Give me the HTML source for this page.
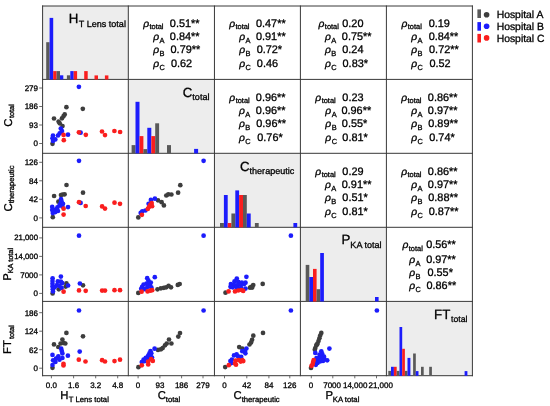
<!DOCTYPE html>
<html><head><meta charset="utf-8"><title>Correlation matrix</title>
<style>
html,body{margin:0;padding:0;background:#fff;width:550px;height:406px;overflow:hidden}
svg{display:block}
text{font-family:"Liberation Sans", "DejaVu Sans", sans-serif;fill:#000;text-rendering:geometricPrecision;stroke:#000;stroke-width:0.3px}
</style></head><body>
<svg width="550" height="406" viewBox="0 0 550 406">
<rect width="550" height="406" fill="#fff"/>
<rect x="42.6" y="6.0" width="85.70" height="73.40" fill="#ededed"/>
<rect x="128.3" y="79.4" width="86.15" height="73.90" fill="#ededed"/>
<rect x="214.45" y="153.3" width="85.95" height="74.00" fill="#ededed"/>
<rect x="300.4" y="227.3" width="86.00" height="74.10" fill="#ededed"/>
<rect x="386.4" y="301.4" width="86.00" height="74.30" fill="#ededed"/>
<circle cx="66.4" cy="107.2" r="2.35" fill="#3d3d3d"/>
<circle cx="82.8" cy="108.8" r="2.35" fill="#3d3d3d"/>
<circle cx="64.7" cy="114.4" r="2.35" fill="#3d3d3d"/>
<circle cx="63.6" cy="116.1" r="2.35" fill="#3d3d3d"/>
<circle cx="62" cy="118.3" r="2.35" fill="#3d3d3d"/>
<circle cx="54" cy="118.5" r="2.35" fill="#3d3d3d"/>
<circle cx="58.6" cy="121.6" r="2.35" fill="#3d3d3d"/>
<circle cx="59.7" cy="123.3" r="2.35" fill="#3d3d3d"/>
<circle cx="62.5" cy="126.1" r="2.35" fill="#3d3d3d"/>
<circle cx="52.5" cy="143.8" r="2.35" fill="#3d3d3d"/>
<circle cx="78.9" cy="86.8" r="2.35" fill="#1c1cfc"/>
<circle cx="60.8" cy="128.6" r="2.35" fill="#1c1cfc"/>
<circle cx="62" cy="131" r="2.35" fill="#1c1cfc"/>
<circle cx="59.7" cy="133.3" r="2.35" fill="#1c1cfc"/>
<circle cx="58" cy="135.5" r="2.35" fill="#1c1cfc"/>
<circle cx="53" cy="135.5" r="2.35" fill="#1c1cfc"/>
<circle cx="52.5" cy="138.2" r="2.35" fill="#1c1cfc"/>
<circle cx="55.3" cy="139.4" r="2.35" fill="#1c1cfc"/>
<circle cx="53" cy="141" r="2.35" fill="#1c1cfc"/>
<circle cx="68" cy="134.7" r="2.35" fill="#1c1cfc"/>
<circle cx="80.6" cy="132.7" r="2.35" fill="#1c1cfc"/>
<circle cx="63.6" cy="134.9" r="2.35" fill="#fa1e1e"/>
<circle cx="63.8" cy="140.2" r="2.35" fill="#fa1e1e"/>
<circle cx="78.9" cy="132.3" r="2.35" fill="#fa1e1e"/>
<circle cx="85.8" cy="134.8" r="2.35" fill="#fa1e1e"/>
<circle cx="102" cy="131.5" r="2.35" fill="#fa1e1e"/>
<circle cx="105" cy="135.1" r="2.35" fill="#fa1e1e"/>
<circle cx="114.4" cy="131" r="2.35" fill="#fa1e1e"/>
<circle cx="120.1" cy="132" r="2.35" fill="#fa1e1e"/>
<circle cx="66.5" cy="185" r="2.35" fill="#3d3d3d"/>
<circle cx="83" cy="192.7" r="2.35" fill="#3d3d3d"/>
<circle cx="54.1" cy="196" r="2.35" fill="#3d3d3d"/>
<circle cx="61" cy="195" r="2.35" fill="#3d3d3d"/>
<circle cx="62.6" cy="194.5" r="2.35" fill="#3d3d3d"/>
<circle cx="64.6" cy="194.3" r="2.35" fill="#3d3d3d"/>
<circle cx="58.4" cy="201.7" r="2.35" fill="#3d3d3d"/>
<circle cx="52.8" cy="217.2" r="2.35" fill="#3d3d3d"/>
<circle cx="79" cy="160.8" r="2.35" fill="#1c1cfc"/>
<circle cx="61" cy="199.1" r="2.35" fill="#1c1cfc"/>
<circle cx="61.5" cy="201.2" r="2.35" fill="#1c1cfc"/>
<circle cx="60.5" cy="203.3" r="2.35" fill="#1c1cfc"/>
<circle cx="59.5" cy="205.3" r="2.35" fill="#1c1cfc"/>
<circle cx="57.4" cy="207.4" r="2.35" fill="#1c1cfc"/>
<circle cx="55.3" cy="209.5" r="2.35" fill="#1c1cfc"/>
<circle cx="52.2" cy="206.9" r="2.35" fill="#1c1cfc"/>
<circle cx="52.2" cy="210" r="2.35" fill="#1c1cfc"/>
<circle cx="52.8" cy="213.1" r="2.35" fill="#1c1cfc"/>
<circle cx="55.3" cy="212.1" r="2.35" fill="#1c1cfc"/>
<circle cx="63" cy="203.8" r="2.35" fill="#1c1cfc"/>
<circle cx="62.3" cy="206.5" r="2.35" fill="#1c1cfc"/>
<circle cx="58" cy="211" r="2.35" fill="#1c1cfc"/>
<circle cx="68" cy="207.1" r="2.35" fill="#1c1cfc"/>
<circle cx="80.6" cy="202.9" r="2.35" fill="#1c1cfc"/>
<circle cx="63.6" cy="208.7" r="2.35" fill="#fa1e1e"/>
<circle cx="63.6" cy="214.6" r="2.35" fill="#fa1e1e"/>
<circle cx="79" cy="202.2" r="2.35" fill="#fa1e1e"/>
<circle cx="85.7" cy="206" r="2.35" fill="#fa1e1e"/>
<circle cx="102.1" cy="206.4" r="2.35" fill="#fa1e1e"/>
<circle cx="105" cy="208.6" r="2.35" fill="#fa1e1e"/>
<circle cx="114.5" cy="202.7" r="2.35" fill="#fa1e1e"/>
<circle cx="120" cy="203.8" r="2.35" fill="#fa1e1e"/>
<circle cx="66.4" cy="283.4" r="2.35" fill="#3d3d3d"/>
<circle cx="65.7" cy="286.6" r="2.35" fill="#3d3d3d"/>
<circle cx="83" cy="285.3" r="2.35" fill="#3d3d3d"/>
<circle cx="52.6" cy="293.4" r="2.35" fill="#3d3d3d"/>
<circle cx="58.8" cy="289.3" r="2.35" fill="#3d3d3d"/>
<circle cx="79" cy="235.7" r="2.35" fill="#1c1cfc"/>
<circle cx="60.9" cy="276.6" r="2.35" fill="#1c1cfc"/>
<circle cx="52.6" cy="278.3" r="2.35" fill="#1c1cfc"/>
<circle cx="52.5" cy="281" r="2.35" fill="#1c1cfc"/>
<circle cx="52.5" cy="283.8" r="2.35" fill="#1c1cfc"/>
<circle cx="52.5" cy="286.6" r="2.35" fill="#1c1cfc"/>
<circle cx="52.8" cy="289.3" r="2.35" fill="#1c1cfc"/>
<circle cx="53" cy="291.4" r="2.35" fill="#1c1cfc"/>
<circle cx="57.8" cy="281.4" r="2.35" fill="#1c1cfc"/>
<circle cx="60.9" cy="281.7" r="2.35" fill="#1c1cfc"/>
<circle cx="62.2" cy="283.1" r="2.35" fill="#1c1cfc"/>
<circle cx="57" cy="285.2" r="2.35" fill="#1c1cfc"/>
<circle cx="59.5" cy="285.9" r="2.35" fill="#1c1cfc"/>
<circle cx="61.6" cy="287.9" r="2.35" fill="#1c1cfc"/>
<circle cx="54.7" cy="287.2" r="2.35" fill="#1c1cfc"/>
<circle cx="68.1" cy="285.5" r="2.35" fill="#1c1cfc"/>
<circle cx="79.9" cy="283.5" r="2.35" fill="#1c1cfc"/>
<circle cx="63.6" cy="291.7" r="2.35" fill="#fa1e1e"/>
<circle cx="79" cy="290.4" r="2.35" fill="#fa1e1e"/>
<circle cx="85.7" cy="290.8" r="2.35" fill="#fa1e1e"/>
<circle cx="102.1" cy="290.6" r="2.35" fill="#fa1e1e"/>
<circle cx="105" cy="290.6" r="2.35" fill="#fa1e1e"/>
<circle cx="114.5" cy="290.2" r="2.35" fill="#fa1e1e"/>
<circle cx="120" cy="290.2" r="2.35" fill="#fa1e1e"/>
<circle cx="66.4" cy="332.9" r="2.35" fill="#3d3d3d"/>
<circle cx="83" cy="336.3" r="2.35" fill="#3d3d3d"/>
<circle cx="62.4" cy="339.5" r="2.35" fill="#3d3d3d"/>
<circle cx="54" cy="344.4" r="2.35" fill="#3d3d3d"/>
<circle cx="60.6" cy="343.5" r="2.35" fill="#3d3d3d"/>
<circle cx="63.5" cy="342.9" r="2.35" fill="#3d3d3d"/>
<circle cx="65.3" cy="343.5" r="2.35" fill="#3d3d3d"/>
<circle cx="58.3" cy="347" r="2.35" fill="#3d3d3d"/>
<circle cx="52.5" cy="367.8" r="2.35" fill="#3d3d3d"/>
<circle cx="79" cy="310.5" r="2.35" fill="#1c1cfc"/>
<circle cx="61.2" cy="348.7" r="2.35" fill="#1c1cfc"/>
<circle cx="61.8" cy="351" r="2.35" fill="#1c1cfc"/>
<circle cx="62.4" cy="353.4" r="2.35" fill="#1c1cfc"/>
<circle cx="79.7" cy="351.6" r="2.35" fill="#1c1cfc"/>
<circle cx="67.9" cy="355.7" r="2.35" fill="#1c1cfc"/>
<circle cx="52.5" cy="354.9" r="2.35" fill="#1c1cfc"/>
<circle cx="58.3" cy="356.3" r="2.35" fill="#1c1cfc"/>
<circle cx="62.4" cy="358" r="2.35" fill="#1c1cfc"/>
<circle cx="56" cy="358.6" r="2.35" fill="#1c1cfc"/>
<circle cx="59.5" cy="359.7" r="2.35" fill="#1c1cfc"/>
<circle cx="53.1" cy="360.3" r="2.35" fill="#1c1cfc"/>
<circle cx="55.4" cy="362" r="2.35" fill="#1c1cfc"/>
<circle cx="52.5" cy="365" r="2.35" fill="#1c1cfc"/>
<circle cx="63.5" cy="363.8" r="2.35" fill="#fa1e1e"/>
<circle cx="63.5" cy="365.5" r="2.35" fill="#fa1e1e"/>
<circle cx="78.8" cy="359.7" r="2.35" fill="#fa1e1e"/>
<circle cx="85.5" cy="361.5" r="2.35" fill="#fa1e1e"/>
<circle cx="102.1" cy="360.2" r="2.35" fill="#fa1e1e"/>
<circle cx="105" cy="361.5" r="2.35" fill="#fa1e1e"/>
<circle cx="114.5" cy="361.1" r="2.35" fill="#fa1e1e"/>
<circle cx="120" cy="359.7" r="2.35" fill="#fa1e1e"/>
<circle cx="166.3" cy="195.5" r="2.35" fill="#3d3d3d"/>
<circle cx="168.3" cy="194.3" r="2.35" fill="#3d3d3d"/>
<circle cx="171.4" cy="194.5" r="2.35" fill="#3d3d3d"/>
<circle cx="180.3" cy="185.2" r="2.35" fill="#3d3d3d"/>
<circle cx="178.1" cy="192.7" r="2.35" fill="#3d3d3d"/>
<circle cx="158" cy="200.3" r="2.35" fill="#3d3d3d"/>
<circle cx="161.6" cy="202.2" r="2.35" fill="#3d3d3d"/>
<circle cx="163.9" cy="205.4" r="2.35" fill="#3d3d3d"/>
<circle cx="138.3" cy="217.4" r="2.35" fill="#3d3d3d"/>
<circle cx="203.6" cy="160.8" r="2.35" fill="#1c1cfc"/>
<circle cx="150.9" cy="199.9" r="2.35" fill="#1c1cfc"/>
<circle cx="154.9" cy="198.7" r="2.35" fill="#1c1cfc"/>
<circle cx="148.6" cy="203.8" r="2.35" fill="#1c1cfc"/>
<circle cx="145.4" cy="210.5" r="2.35" fill="#1c1cfc"/>
<circle cx="142.3" cy="211.3" r="2.35" fill="#1c1cfc"/>
<circle cx="140.7" cy="212.9" r="2.35" fill="#1c1cfc"/>
<circle cx="151.7" cy="203" r="2.35" fill="#fa1e1e"/>
<circle cx="150.1" cy="205" r="2.35" fill="#fa1e1e"/>
<circle cx="149" cy="207" r="2.35" fill="#fa1e1e"/>
<circle cx="147.8" cy="208.9" r="2.35" fill="#fa1e1e"/>
<circle cx="152.1" cy="206.2" r="2.35" fill="#fa1e1e"/>
<circle cx="141.9" cy="214.8" r="2.35" fill="#fa1e1e"/>
<circle cx="138.3" cy="292.9" r="2.35" fill="#3d3d3d"/>
<circle cx="157.5" cy="289.3" r="2.35" fill="#3d3d3d"/>
<circle cx="160.9" cy="288.3" r="2.35" fill="#3d3d3d"/>
<circle cx="163.8" cy="287.8" r="2.35" fill="#3d3d3d"/>
<circle cx="166.2" cy="287.3" r="2.35" fill="#3d3d3d"/>
<circle cx="168.6" cy="285.9" r="2.35" fill="#3d3d3d"/>
<circle cx="171" cy="287.3" r="2.35" fill="#3d3d3d"/>
<circle cx="177.8" cy="284.9" r="2.35" fill="#3d3d3d"/>
<circle cx="179.7" cy="284" r="2.35" fill="#3d3d3d"/>
<circle cx="203.6" cy="235.7" r="2.35" fill="#1c1cfc"/>
<circle cx="154.8" cy="277.2" r="2.35" fill="#1c1cfc"/>
<circle cx="147.2" cy="278.2" r="2.35" fill="#1c1cfc"/>
<circle cx="148.4" cy="280.6" r="2.35" fill="#1c1cfc"/>
<circle cx="150.8" cy="282.5" r="2.35" fill="#1c1cfc"/>
<circle cx="149.8" cy="284.5" r="2.35" fill="#1c1cfc"/>
<circle cx="146.5" cy="283.5" r="2.35" fill="#1c1cfc"/>
<circle cx="143.6" cy="284.5" r="2.35" fill="#1c1cfc"/>
<circle cx="142.1" cy="286.9" r="2.35" fill="#1c1cfc"/>
<circle cx="141.2" cy="288.8" r="2.35" fill="#1c1cfc"/>
<circle cx="147.4" cy="286.9" r="2.35" fill="#1c1cfc"/>
<circle cx="151.3" cy="287.3" r="2.35" fill="#1c1cfc"/>
<circle cx="144.6" cy="289.2" r="2.35" fill="#1c1cfc"/>
<circle cx="141.6" cy="291.7" r="2.35" fill="#fa1e1e"/>
<circle cx="147.6" cy="291.4" r="2.35" fill="#fa1e1e"/>
<circle cx="150.3" cy="290.7" r="2.35" fill="#fa1e1e"/>
<circle cx="152.2" cy="290.2" r="2.35" fill="#fa1e1e"/>
<circle cx="180" cy="333.1" r="2.35" fill="#3d3d3d"/>
<circle cx="178.3" cy="336.6" r="2.35" fill="#3d3d3d"/>
<circle cx="169" cy="339.5" r="2.35" fill="#3d3d3d"/>
<circle cx="171.4" cy="343.5" r="2.35" fill="#3d3d3d"/>
<circle cx="166.7" cy="343.5" r="2.35" fill="#3d3d3d"/>
<circle cx="165" cy="345.3" r="2.35" fill="#3d3d3d"/>
<circle cx="162.7" cy="348.1" r="2.35" fill="#3d3d3d"/>
<circle cx="160.9" cy="349.3" r="2.35" fill="#3d3d3d"/>
<circle cx="158" cy="349.9" r="2.35" fill="#3d3d3d"/>
<circle cx="138.4" cy="367.2" r="2.35" fill="#3d3d3d"/>
<circle cx="203.6" cy="310.5" r="2.35" fill="#1c1cfc"/>
<circle cx="154.6" cy="348.7" r="2.35" fill="#1c1cfc"/>
<circle cx="150.5" cy="351" r="2.35" fill="#1c1cfc"/>
<circle cx="149.4" cy="353.4" r="2.35" fill="#1c1cfc"/>
<circle cx="148.2" cy="355.7" r="2.35" fill="#1c1cfc"/>
<circle cx="147.6" cy="358" r="2.35" fill="#1c1cfc"/>
<circle cx="143.6" cy="359.7" r="2.35" fill="#1c1cfc"/>
<circle cx="141.8" cy="362" r="2.35" fill="#1c1cfc"/>
<circle cx="151.3" cy="353.2" r="2.35" fill="#1c1cfc"/>
<circle cx="150.6" cy="356" r="2.35" fill="#1c1cfc"/>
<circle cx="152" cy="357.6" r="2.35" fill="#1c1cfc"/>
<circle cx="145.8" cy="357.8" r="2.35" fill="#1c1cfc"/>
<circle cx="144.6" cy="361.2" r="2.35" fill="#1c1cfc"/>
<circle cx="151.1" cy="359.1" r="2.35" fill="#fa1e1e"/>
<circle cx="152.8" cy="360.9" r="2.35" fill="#fa1e1e"/>
<circle cx="148.2" cy="361.5" r="2.35" fill="#fa1e1e"/>
<circle cx="148.2" cy="364.4" r="2.35" fill="#fa1e1e"/>
<circle cx="141.8" cy="365.3" r="2.35" fill="#fa1e1e"/>
<circle cx="251.4" cy="286.8" r="2.35" fill="#3d3d3d"/>
<circle cx="253.2" cy="285" r="2.35" fill="#3d3d3d"/>
<circle cx="250" cy="287.7" r="2.35" fill="#3d3d3d"/>
<circle cx="252.2" cy="287.6" r="2.35" fill="#3d3d3d"/>
<circle cx="262.7" cy="283.9" r="2.35" fill="#3d3d3d"/>
<circle cx="225.5" cy="292.7" r="2.35" fill="#3d3d3d"/>
<circle cx="290.9" cy="235.7" r="2.35" fill="#1c1cfc"/>
<circle cx="246.4" cy="276.8" r="2.35" fill="#1c1cfc"/>
<circle cx="236.8" cy="278.6" r="2.35" fill="#1c1cfc"/>
<circle cx="234.5" cy="281.4" r="2.35" fill="#1c1cfc"/>
<circle cx="238.2" cy="281.8" r="2.35" fill="#1c1cfc"/>
<circle cx="241.8" cy="282.7" r="2.35" fill="#1c1cfc"/>
<circle cx="245.5" cy="282.7" r="2.35" fill="#1c1cfc"/>
<circle cx="230.9" cy="284.1" r="2.35" fill="#1c1cfc"/>
<circle cx="234.1" cy="285" r="2.35" fill="#1c1cfc"/>
<circle cx="237.7" cy="285" r="2.35" fill="#1c1cfc"/>
<circle cx="240.9" cy="284.5" r="2.35" fill="#1c1cfc"/>
<circle cx="244.1" cy="284.1" r="2.35" fill="#1c1cfc"/>
<circle cx="230.5" cy="286.8" r="2.35" fill="#1c1cfc"/>
<circle cx="232.7" cy="287.3" r="2.35" fill="#1c1cfc"/>
<circle cx="245.5" cy="288.6" r="2.35" fill="#1c1cfc"/>
<circle cx="237" cy="287.8" r="2.35" fill="#1c1cfc"/>
<circle cx="241" cy="287.8" r="2.35" fill="#1c1cfc"/>
<circle cx="228.6" cy="291.4" r="2.35" fill="#fa1e1e"/>
<circle cx="235" cy="291.4" r="2.35" fill="#fa1e1e"/>
<circle cx="238.2" cy="290.5" r="2.35" fill="#fa1e1e"/>
<circle cx="241.4" cy="290" r="2.35" fill="#fa1e1e"/>
<circle cx="243.2" cy="290.9" r="2.35" fill="#fa1e1e"/>
<circle cx="263" cy="332.9" r="2.35" fill="#3d3d3d"/>
<circle cx="253.3" cy="335.7" r="2.35" fill="#3d3d3d"/>
<circle cx="252.1" cy="339.8" r="2.35" fill="#3d3d3d"/>
<circle cx="251.1" cy="342.4" r="2.35" fill="#3d3d3d"/>
<circle cx="249.5" cy="344.5" r="2.35" fill="#3d3d3d"/>
<circle cx="239.2" cy="347.1" r="2.35" fill="#3d3d3d"/>
<circle cx="242.3" cy="348.6" r="2.35" fill="#3d3d3d"/>
<circle cx="225.2" cy="367.1" r="2.35" fill="#3d3d3d"/>
<circle cx="290.9" cy="310.5" r="2.35" fill="#1c1cfc"/>
<circle cx="246.4" cy="348.6" r="2.35" fill="#1c1cfc"/>
<circle cx="244.8" cy="351.2" r="2.35" fill="#1c1cfc"/>
<circle cx="242.3" cy="351.2" r="2.35" fill="#1c1cfc"/>
<circle cx="245.4" cy="353.3" r="2.35" fill="#1c1cfc"/>
<circle cx="236.6" cy="354.3" r="2.35" fill="#1c1cfc"/>
<circle cx="234" cy="355.4" r="2.35" fill="#1c1cfc"/>
<circle cx="238.1" cy="356.4" r="2.35" fill="#1c1cfc"/>
<circle cx="241.2" cy="356.9" r="2.35" fill="#1c1cfc"/>
<circle cx="231.9" cy="359.5" r="2.35" fill="#1c1cfc"/>
<circle cx="230.4" cy="361.1" r="2.35" fill="#1c1cfc"/>
<circle cx="231.4" cy="363.1" r="2.35" fill="#1c1cfc"/>
<circle cx="235.5" cy="360.5" r="2.35" fill="#fa1e1e"/>
<circle cx="238.6" cy="360" r="2.35" fill="#fa1e1e"/>
<circle cx="242.3" cy="360" r="2.35" fill="#fa1e1e"/>
<circle cx="243.3" cy="361.1" r="2.35" fill="#fa1e1e"/>
<circle cx="240.7" cy="361.6" r="2.35" fill="#fa1e1e"/>
<circle cx="235" cy="363.6" r="2.35" fill="#fa1e1e"/>
<circle cx="236" cy="364.7" r="2.35" fill="#fa1e1e"/>
<circle cx="228.8" cy="365.2" r="2.35" fill="#fa1e1e"/>
<circle cx="321.3" cy="332.9" r="2.35" fill="#3d3d3d"/>
<circle cx="320.2" cy="335.6" r="2.35" fill="#3d3d3d"/>
<circle cx="319.4" cy="338.3" r="2.35" fill="#3d3d3d"/>
<circle cx="318.5" cy="341" r="2.35" fill="#3d3d3d"/>
<circle cx="317.5" cy="343.7" r="2.35" fill="#3d3d3d"/>
<circle cx="316.4" cy="345.3" r="2.35" fill="#3d3d3d"/>
<circle cx="315.3" cy="348" r="2.35" fill="#3d3d3d"/>
<circle cx="314.8" cy="349.7" r="2.35" fill="#3d3d3d"/>
<circle cx="316.8" cy="344.6" r="2.35" fill="#3d3d3d"/>
<circle cx="311" cy="367.9" r="2.35" fill="#3d3d3d"/>
<circle cx="376.9" cy="310.5" r="2.35" fill="#1c1cfc"/>
<circle cx="329.4" cy="348.6" r="2.35" fill="#1c1cfc"/>
<circle cx="315.3" cy="352.9" r="2.35" fill="#1c1cfc"/>
<circle cx="321.3" cy="351.3" r="2.35" fill="#1c1cfc"/>
<circle cx="322.3" cy="354" r="2.35" fill="#1c1cfc"/>
<circle cx="324" cy="356.7" r="2.35" fill="#1c1cfc"/>
<circle cx="320.2" cy="356.7" r="2.35" fill="#1c1cfc"/>
<circle cx="318" cy="358.9" r="2.35" fill="#1c1cfc"/>
<circle cx="316.9" cy="361.6" r="2.35" fill="#1c1cfc"/>
<circle cx="327.2" cy="360.3" r="2.35" fill="#1c1cfc"/>
<circle cx="324.5" cy="359.4" r="2.35" fill="#1c1cfc"/>
<circle cx="315.8" cy="364.8" r="2.35" fill="#1c1cfc"/>
<circle cx="319.5" cy="354.5" r="2.35" fill="#1c1cfc"/>
<circle cx="321" cy="357.5" r="2.35" fill="#1c1cfc"/>
<circle cx="318.5" cy="360.5" r="2.35" fill="#1c1cfc"/>
<circle cx="322.5" cy="359" r="2.35" fill="#1c1cfc"/>
<circle cx="317.5" cy="363" r="2.35" fill="#1c1cfc"/>
<circle cx="320" cy="361.5" r="2.35" fill="#1c1cfc"/>
<circle cx="323" cy="361" r="2.35" fill="#1c1cfc"/>
<circle cx="316.5" cy="358" r="2.35" fill="#1c1cfc"/>
<circle cx="313.7" cy="360" r="2.35" fill="#fa1e1e"/>
<circle cx="313.1" cy="362.1" r="2.35" fill="#fa1e1e"/>
<circle cx="312.6" cy="364.3" r="2.35" fill="#fa1e1e"/>
<circle cx="311.5" cy="365.9" r="2.35" fill="#fa1e1e"/>
<line x1="42.6" y1="5.5" x2="42.6" y2="376.2" stroke="#383838" stroke-width="1.0"/>
<line x1="42.1" y1="6.0" x2="472.9" y2="6.0" stroke="#383838" stroke-width="1.0"/>
<line x1="128.3" y1="5.5" x2="128.3" y2="376.2" stroke="#383838" stroke-width="1.0"/>
<line x1="42.1" y1="79.4" x2="472.9" y2="79.4" stroke="#383838" stroke-width="1.0"/>
<line x1="214.45" y1="5.5" x2="214.45" y2="376.2" stroke="#383838" stroke-width="1.0"/>
<line x1="42.1" y1="153.3" x2="472.9" y2="153.3" stroke="#383838" stroke-width="1.0"/>
<line x1="300.4" y1="5.5" x2="300.4" y2="376.2" stroke="#383838" stroke-width="1.0"/>
<line x1="42.1" y1="227.3" x2="472.9" y2="227.3" stroke="#383838" stroke-width="1.0"/>
<line x1="386.4" y1="5.5" x2="386.4" y2="376.2" stroke="#383838" stroke-width="1.0"/>
<line x1="42.1" y1="301.4" x2="472.9" y2="301.4" stroke="#383838" stroke-width="1.0"/>
<line x1="472.4" y1="5.5" x2="472.4" y2="376.2" stroke="#383838" stroke-width="1.0"/>
<line x1="42.1" y1="375.7" x2="472.9" y2="375.7" stroke="#383838" stroke-width="1.0"/>
<rect x="46.2" y="42.2" width="3.4" height="37.3" fill="#595959"/>
<rect x="49.6" y="17.9" width="3.6" height="61.6" fill="#1c1cfc"/>
<rect x="53.2" y="71.1" width="3.4" height="8.4" fill="#fa1e1e"/>
<rect x="56.6" y="71.1" width="3.4" height="8.4" fill="#595959"/>
<rect x="60.0" y="75.3" width="3.3" height="4.2" fill="#1c1cfc"/>
<rect x="66.9" y="75.3" width="3.4" height="4.2" fill="#595959"/>
<rect x="70.3" y="71.1" width="3.4" height="8.4" fill="#1c1cfc"/>
<rect x="73.7" y="71.1" width="3.4" height="8.4" fill="#fa1e1e"/>
<rect x="84.2" y="71.1" width="3.5" height="8.4" fill="#fa1e1e"/>
<rect x="94.5" y="75.4" width="3.5" height="4.1" fill="#fa1e1e"/>
<rect x="104.9" y="75.4" width="3.5" height="4.1" fill="#fa1e1e"/>
<rect x="131.6" y="145.1" width="3.9" height="8.3" fill="#595959"/>
<rect x="135.5" y="101.8" width="4.0" height="51.6" fill="#1c1cfc"/>
<rect x="139.5" y="136.1" width="3.9" height="17.3" fill="#fa1e1e"/>
<rect x="143.4" y="149.1" width="3.9" height="4.3" fill="#595959"/>
<rect x="147.3" y="127.8" width="4.0" height="25.6" fill="#1c1cfc"/>
<rect x="151.3" y="136.1" width="3.9" height="17.3" fill="#fa1e1e"/>
<rect x="155.2" y="123.3" width="3.9" height="30.1" fill="#595959"/>
<rect x="167.0" y="145.1" width="4.0" height="8.3" fill="#595959"/>
<rect x="194.1" y="148.9" width="4.0" height="4.5" fill="#1c1cfc"/>
<rect x="220.0" y="223.0" width="3.9" height="4.4" fill="#595959"/>
<rect x="223.9" y="195.0" width="3.8" height="32.4" fill="#1c1cfc"/>
<rect x="227.7" y="223.0" width="3.7" height="4.4" fill="#fa1e1e"/>
<rect x="231.4" y="213.5" width="3.9" height="13.9" fill="#595959"/>
<rect x="235.3" y="190.4" width="3.8" height="37.0" fill="#1c1cfc"/>
<rect x="239.1" y="195.0" width="3.9" height="32.4" fill="#fa1e1e"/>
<rect x="243.0" y="195.0" width="3.8" height="32.4" fill="#595959"/>
<rect x="246.8" y="213.5" width="3.9" height="13.9" fill="#1c1cfc"/>
<rect x="254.9" y="223.0" width="3.8" height="4.4" fill="#595959"/>
<rect x="293.4" y="223.0" width="3.8" height="4.4" fill="#1c1cfc"/>
<rect x="305.7" y="264.9" width="3.6" height="36.6" fill="#595959"/>
<rect x="309.3" y="277.0" width="3.7" height="24.5" fill="#1c1cfc"/>
<rect x="313.0" y="268.9" width="3.6" height="32.6" fill="#fa1e1e"/>
<rect x="316.6" y="289.2" width="3.6" height="12.3" fill="#595959"/>
<rect x="320.2" y="253.0" width="3.7" height="48.5" fill="#1c1cfc"/>
<rect x="375.0" y="297.0" width="3.6" height="4.5" fill="#1c1cfc"/>
<rect x="388.3" y="370.9" width="2.7" height="4.9" fill="#595959"/>
<rect x="391.0" y="366.8" width="2.9" height="9.0" fill="#1c1cfc"/>
<rect x="393.9" y="366.8" width="2.8" height="9.0" fill="#fa1e1e"/>
<rect x="396.7" y="370.9" width="2.8" height="4.9" fill="#595959"/>
<rect x="399.5" y="327.0" width="2.7" height="48.8" fill="#1c1cfc"/>
<rect x="402.2" y="348.8" width="2.7" height="27.0" fill="#fa1e1e"/>
<rect x="404.9" y="370.9" width="2.6" height="4.9" fill="#595959"/>
<rect x="407.5" y="357.9" width="2.9" height="17.9" fill="#1c1cfc"/>
<rect x="413.1" y="353.5" width="2.7" height="22.3" fill="#595959"/>
<rect x="415.8" y="371.1" width="2.7" height="4.7" fill="#1c1cfc"/>
<rect x="421.0" y="366.8" width="2.7" height="9.0" fill="#595959"/>
<rect x="429.2" y="366.8" width="2.7" height="9.0" fill="#595959"/>
<rect x="464.6" y="371.1" width="2.8" height="4.7" fill="#1c1cfc"/>
<line x1="51.4" y1="375.5" x2="51.4" y2="378.3" stroke="#5a5a5a" stroke-width="0.9"/>
<text x="51.4" y="387.7" font-size="8.0" text-anchor="middle">0.0</text>
<line x1="73.6" y1="375.5" x2="73.6" y2="378.3" stroke="#5a5a5a" stroke-width="0.9"/>
<text x="73.6" y="387.7" font-size="8.0" text-anchor="middle">1.6</text>
<line x1="95.7" y1="375.5" x2="95.7" y2="378.3" stroke="#5a5a5a" stroke-width="0.9"/>
<text x="95.7" y="387.7" font-size="8.0" text-anchor="middle">3.2</text>
<line x1="117.7" y1="375.5" x2="117.7" y2="378.3" stroke="#5a5a5a" stroke-width="0.9"/>
<text x="117.7" y="387.7" font-size="8.0" text-anchor="middle">4.8</text>
<line x1="138.1" y1="375.5" x2="138.1" y2="378.3" stroke="#5a5a5a" stroke-width="0.9"/>
<text x="138.1" y="387.7" font-size="8.0" text-anchor="middle">0</text>
<line x1="159.9" y1="375.5" x2="159.9" y2="378.3" stroke="#5a5a5a" stroke-width="0.9"/>
<text x="159.9" y="387.7" font-size="8.0" text-anchor="middle">93</text>
<line x1="181.6" y1="375.5" x2="181.6" y2="378.3" stroke="#5a5a5a" stroke-width="0.9"/>
<text x="181.6" y="387.7" font-size="8.0" text-anchor="middle">186</text>
<line x1="203.0" y1="375.5" x2="203.0" y2="378.3" stroke="#5a5a5a" stroke-width="0.9"/>
<text x="203.0" y="387.7" font-size="8.0" text-anchor="middle">279</text>
<line x1="224.5" y1="375.5" x2="224.5" y2="378.3" stroke="#5a5a5a" stroke-width="0.9"/>
<text x="224.5" y="387.7" font-size="8.0" text-anchor="middle">0</text>
<line x1="246.8" y1="375.5" x2="246.8" y2="378.3" stroke="#5a5a5a" stroke-width="0.9"/>
<text x="246.8" y="387.7" font-size="8.0" text-anchor="middle">42</text>
<line x1="268.9" y1="375.5" x2="268.9" y2="378.3" stroke="#5a5a5a" stroke-width="0.9"/>
<text x="268.9" y="387.7" font-size="8.0" text-anchor="middle">84</text>
<line x1="289.8" y1="375.5" x2="289.8" y2="378.3" stroke="#5a5a5a" stroke-width="0.9"/>
<text x="289.8" y="387.7" font-size="8.0" text-anchor="middle">126</text>
<line x1="311.3" y1="375.5" x2="311.3" y2="378.3" stroke="#5a5a5a" stroke-width="0.9"/>
<text x="311.0" y="387.7" font-size="8.0" text-anchor="middle">0</text>
<line x1="332.8" y1="375.5" x2="332.8" y2="378.3" stroke="#5a5a5a" stroke-width="0.9"/>
<text x="332.1" y="387.7" font-size="8.0" text-anchor="middle">7000</text>
<line x1="354.8" y1="375.5" x2="354.8" y2="378.3" stroke="#5a5a5a" stroke-width="0.9"/>
<text x="355.2" y="387.7" font-size="8.0" text-anchor="middle">14,000</text>
<line x1="376.5" y1="375.5" x2="376.5" y2="378.3" stroke="#5a5a5a" stroke-width="0.9"/>
<text x="380.7" y="387.7" font-size="8.0" text-anchor="middle">21,000</text>
<line x1="39.2" y1="143.5" x2="42" y2="143.5" stroke="#5a5a5a" stroke-width="0.9"/>
<text x="38" y="146.40" font-size="8.0" text-anchor="end">0</text>
<line x1="39.2" y1="125.0" x2="42" y2="125.0" stroke="#5a5a5a" stroke-width="0.9"/>
<text x="38" y="127.90" font-size="8.0" text-anchor="end">93</text>
<line x1="39.2" y1="106.5" x2="42" y2="106.5" stroke="#5a5a5a" stroke-width="0.9"/>
<text x="38" y="109.40" font-size="8.0" text-anchor="end">186</text>
<line x1="39.2" y1="88.0" x2="42" y2="88.0" stroke="#5a5a5a" stroke-width="0.9"/>
<text x="38" y="90.90" font-size="8.0" text-anchor="end">279</text>
<line x1="39.2" y1="217.9" x2="42" y2="217.9" stroke="#5a5a5a" stroke-width="0.9"/>
<text x="38" y="220.80" font-size="8.0" text-anchor="end">0</text>
<line x1="39.2" y1="199.3" x2="42" y2="199.3" stroke="#5a5a5a" stroke-width="0.9"/>
<text x="38" y="202.20" font-size="8.0" text-anchor="end">42</text>
<line x1="39.2" y1="180.8" x2="42" y2="180.8" stroke="#5a5a5a" stroke-width="0.9"/>
<text x="38" y="183.70" font-size="8.0" text-anchor="end">84</text>
<line x1="39.2" y1="162.3" x2="42" y2="162.3" stroke="#5a5a5a" stroke-width="0.9"/>
<text x="38" y="165.20" font-size="8.0" text-anchor="end">126</text>
<line x1="39.2" y1="293.4" x2="42" y2="293.4" stroke="#5a5a5a" stroke-width="0.9"/>
<text x="38" y="296.30" font-size="8.0" text-anchor="end">0</text>
<line x1="39.2" y1="274.9" x2="42" y2="274.9" stroke="#5a5a5a" stroke-width="0.9"/>
<text x="38" y="277.80" font-size="8.0" text-anchor="end">7000</text>
<line x1="39.2" y1="256.4" x2="42" y2="256.4" stroke="#5a5a5a" stroke-width="0.9"/>
<text x="38" y="258.90" font-size="7.75" text-anchor="end">14,000</text>
<line x1="39.2" y1="237.9" x2="42" y2="237.9" stroke="#5a5a5a" stroke-width="0.9"/>
<text x="38" y="240.40" font-size="7.75" text-anchor="end">21,000</text>
<line x1="39.2" y1="368.2" x2="42" y2="368.2" stroke="#5a5a5a" stroke-width="0.9"/>
<text x="38" y="371.10" font-size="8.0" text-anchor="end">0</text>
<line x1="39.2" y1="349.7" x2="42" y2="349.7" stroke="#5a5a5a" stroke-width="0.9"/>
<text x="38" y="352.60" font-size="8.0" text-anchor="end">62</text>
<line x1="39.2" y1="331.2" x2="42" y2="331.2" stroke="#5a5a5a" stroke-width="0.9"/>
<text x="38" y="334.10" font-size="8.0" text-anchor="end">124</text>
<line x1="39.2" y1="312.7" x2="42" y2="312.7" stroke="#5a5a5a" stroke-width="0.9"/>
<text x="38" y="315.60" font-size="8.0" text-anchor="end">186</text>
<text x="60.17" y="399.1" font-size="11.3">H</text><text x="68.83" y="402.2" font-size="7.7">T Lens total</text>
<text x="157.63" y="399.0" font-size="11.3">C</text><text x="165.78" y="402.0" font-size="7.7">total</text>
<text x="233.43" y="399.0" font-size="11.3">C</text><text x="241.68" y="402.0" font-size="7.7">therapeutic</text>
<text x="325.47" y="398.9" font-size="11.3">P</text><text x="332.87" y="402.0" font-size="7.7">KA total</text>
<text transform="rotate(-90)" x="-126.67" y="11.6" font-size="11.3">C</text><text transform="rotate(-90)" x="-118.11" y="13.6" font-size="7.35">total</text>
<text transform="rotate(-90)" x="-211.57" y="11.6" font-size="11.3">C</text><text transform="rotate(-90)" x="-203.32" y="13.6" font-size="7.65">therapeutic</text>
<text transform="rotate(-90)" x="-280.73" y="11.3" font-size="11.3">P</text><text transform="rotate(-90)" x="-273.30" y="13.4" font-size="7.35">KA total</text>
<text transform="rotate(-90)" x="-354.03" y="11.0" font-size="11.3">FT</text><text transform="rotate(-90)" x="-339.11" y="13.8" font-size="7.35">total</text>
<text x="68.71" y="22.8" font-size="13.3">H</text>
<text x="78.80" y="26.7" font-size="9.05">T Lens total</text>
<text x="182.72" y="97.2" font-size="13.3">C</text>
<text x="192.36" y="99.9" font-size="9.05">total</text>
<text x="239.92" y="170.9" font-size="13.3">C</text>
<text x="249.56" y="174.2" font-size="9.05">therapeutic</text>
<text x="341.51" y="244.4" font-size="13.3">P</text>
<text x="350.36" y="247.7" font-size="9.05">KA total</text>
<text x="434.11" y="318.8" font-size="13.3">FT</text>
<text x="450.97" y="321.7" font-size="8.7">total</text>
<text x="143.15" y="26.70" font-size="10.3" font-style="italic">ρ<tspan dx="0.4" dy="2.7" font-size="7.45" font-style="normal">total</tspan></text>
<text x="169.87" y="26.70" font-size="10.9">0.51**</text>
<text x="153.15" y="40.00" font-size="10.3" font-style="italic">ρ<tspan dx="0.4" dy="2.7" font-size="7.45" font-style="normal">A</tspan></text>
<text x="169.87" y="40.00" font-size="10.9">0.84**</text>
<text x="153.15" y="53.45" font-size="10.3" font-style="italic">ρ<tspan dx="0.4" dy="2.7" font-size="7.45" font-style="normal">B</tspan></text>
<text x="170.57" y="53.45" font-size="10.9">0.79**</text>
<text x="153.15" y="66.85" font-size="10.3" font-style="italic">ρ<tspan dx="0.4" dy="2.7" font-size="7.45" font-style="normal">C</tspan></text>
<text x="170.97" y="66.85" font-size="10.9">0.62</text>
<text x="229.15" y="26.70" font-size="10.3" font-style="italic">ρ<tspan dx="0.4" dy="2.7" font-size="7.45" font-style="normal">total</tspan></text>
<text x="255.97" y="26.70" font-size="10.9">0.47**</text>
<text x="239.15" y="40.00" font-size="10.3" font-style="italic">ρ<tspan dx="0.4" dy="2.7" font-size="7.45" font-style="normal">A</tspan></text>
<text x="255.97" y="40.00" font-size="10.9">0.91**</text>
<text x="239.15" y="53.45" font-size="10.3" font-style="italic">ρ<tspan dx="0.4" dy="2.7" font-size="7.45" font-style="normal">B</tspan></text>
<text x="256.67" y="53.45" font-size="10.9">0.72*</text>
<text x="239.15" y="66.85" font-size="10.3" font-style="italic">ρ<tspan dx="0.4" dy="2.7" font-size="7.45" font-style="normal">C</tspan></text>
<text x="256.87" y="66.85" font-size="10.9">0.46</text>
<text x="318.55" y="26.70" font-size="10.3" font-style="italic">ρ<tspan dx="0.4" dy="2.7" font-size="7.45" font-style="normal">total</tspan></text>
<text x="342.27" y="26.70" font-size="10.9">0.20</text>
<text x="325.05" y="40.00" font-size="10.3" font-style="italic">ρ<tspan dx="0.4" dy="2.7" font-size="7.45" font-style="normal">A</tspan></text>
<text x="341.87" y="40.00" font-size="10.9">0.75**</text>
<text x="325.05" y="53.45" font-size="10.3" font-style="italic">ρ<tspan dx="0.4" dy="2.7" font-size="7.45" font-style="normal">B</tspan></text>
<text x="342.27" y="53.45" font-size="10.9">0.24</text>
<text x="325.05" y="66.85" font-size="10.3" font-style="italic">ρ<tspan dx="0.4" dy="2.7" font-size="7.45" font-style="normal">C</tspan></text>
<text x="342.57" y="66.85" font-size="10.9">0.83*</text>
<text x="401.45" y="26.70" font-size="10.3" font-style="italic">ρ<tspan dx="0.4" dy="2.7" font-size="7.45" font-style="normal">total</tspan></text>
<text x="428.67" y="26.70" font-size="10.9">0.19</text>
<text x="411.15" y="40.00" font-size="10.3" font-style="italic">ρ<tspan dx="0.4" dy="2.7" font-size="7.45" font-style="normal">A</tspan></text>
<text x="428.67" y="40.00" font-size="10.9">0.84**</text>
<text x="411.15" y="53.45" font-size="10.3" font-style="italic">ρ<tspan dx="0.4" dy="2.7" font-size="7.45" font-style="normal">B</tspan></text>
<text x="429.07" y="53.45" font-size="10.9">0.72**</text>
<text x="411.15" y="66.85" font-size="10.3" font-style="italic">ρ<tspan dx="0.4" dy="2.7" font-size="7.45" font-style="normal">C</tspan></text>
<text x="429.47" y="66.85" font-size="10.9">0.52</text>
<text x="229.35" y="100.70" font-size="10.3" font-style="italic">ρ<tspan dx="0.4" dy="2.7" font-size="7.45" font-style="normal">total</tspan></text>
<text x="255.87" y="100.70" font-size="10.9">0.96**</text>
<text x="239.05" y="114.00" font-size="10.3" font-style="italic">ρ<tspan dx="0.4" dy="2.7" font-size="7.45" font-style="normal">A</tspan></text>
<text x="255.87" y="114.00" font-size="10.9">0.96**</text>
<text x="239.05" y="127.45" font-size="10.3" font-style="italic">ρ<tspan dx="0.4" dy="2.7" font-size="7.45" font-style="normal">B</tspan></text>
<text x="256.27" y="127.45" font-size="10.9">0.96**</text>
<text x="239.05" y="140.85" font-size="10.3" font-style="italic">ρ<tspan dx="0.4" dy="2.7" font-size="7.45" font-style="normal">C</tspan></text>
<text x="257.27" y="140.85" font-size="10.9">0.76*</text>
<text x="315.35" y="100.70" font-size="10.3" font-style="italic">ρ<tspan dx="0.4" dy="2.7" font-size="7.45" font-style="normal">total</tspan></text>
<text x="342.37" y="100.70" font-size="10.9">0.23</text>
<text x="325.35" y="114.00" font-size="10.3" font-style="italic">ρ<tspan dx="0.4" dy="2.7" font-size="7.45" font-style="normal">A</tspan></text>
<text x="341.47" y="114.00" font-size="10.9">0.96**</text>
<text x="325.35" y="127.45" font-size="10.3" font-style="italic">ρ<tspan dx="0.4" dy="2.7" font-size="7.45" font-style="normal">B</tspan></text>
<text x="341.87" y="127.45" font-size="10.9">0.55*</text>
<text x="325.35" y="140.85" font-size="10.3" font-style="italic">ρ<tspan dx="0.4" dy="2.7" font-size="7.45" font-style="normal">C</tspan></text>
<text x="342.37" y="140.85" font-size="10.9">0.81*</text>
<text x="401.15" y="100.70" font-size="10.3" font-style="italic">ρ<tspan dx="0.4" dy="2.7" font-size="7.45" font-style="normal">total</tspan></text>
<text x="427.87" y="100.70" font-size="10.9">0.86**</text>
<text x="411.15" y="114.00" font-size="10.3" font-style="italic">ρ<tspan dx="0.4" dy="2.7" font-size="7.45" font-style="normal">A</tspan></text>
<text x="427.87" y="114.00" font-size="10.9">0.97**</text>
<text x="411.15" y="127.45" font-size="10.3" font-style="italic">ρ<tspan dx="0.4" dy="2.7" font-size="7.45" font-style="normal">B</tspan></text>
<text x="428.27" y="127.45" font-size="10.9">0.89**</text>
<text x="411.15" y="140.85" font-size="10.3" font-style="italic">ρ<tspan dx="0.4" dy="2.7" font-size="7.45" font-style="normal">C</tspan></text>
<text x="429.27" y="140.85" font-size="10.9">0.74*</text>
<text x="315.35" y="174.70" font-size="10.3" font-style="italic">ρ<tspan dx="0.4" dy="2.7" font-size="7.45" font-style="normal">total</tspan></text>
<text x="342.37" y="174.70" font-size="10.9">0.29</text>
<text x="325.05" y="188.00" font-size="10.3" font-style="italic">ρ<tspan dx="0.4" dy="2.7" font-size="7.45" font-style="normal">A</tspan></text>
<text x="341.77" y="188.00" font-size="10.9">0.91**</text>
<text x="325.05" y="201.45" font-size="10.3" font-style="italic">ρ<tspan dx="0.4" dy="2.7" font-size="7.45" font-style="normal">B</tspan></text>
<text x="342.37" y="201.45" font-size="10.9">0.51*</text>
<text x="325.05" y="214.85" font-size="10.3" font-style="italic">ρ<tspan dx="0.4" dy="2.7" font-size="7.45" font-style="normal">C</tspan></text>
<text x="342.37" y="214.85" font-size="10.9">0.81*</text>
<text x="401.15" y="174.70" font-size="10.3" font-style="italic">ρ<tspan dx="0.4" dy="2.7" font-size="7.45" font-style="normal">total</tspan></text>
<text x="427.87" y="174.70" font-size="10.9">0.86**</text>
<text x="411.15" y="188.00" font-size="10.3" font-style="italic">ρ<tspan dx="0.4" dy="2.7" font-size="7.45" font-style="normal">A</tspan></text>
<text x="427.87" y="188.00" font-size="10.9">0.97**</text>
<text x="411.15" y="201.45" font-size="10.3" font-style="italic">ρ<tspan dx="0.4" dy="2.7" font-size="7.45" font-style="normal">B</tspan></text>
<text x="428.27" y="201.45" font-size="10.9">0.88**</text>
<text x="411.15" y="214.85" font-size="10.3" font-style="italic">ρ<tspan dx="0.4" dy="2.7" font-size="7.45" font-style="normal">C</tspan></text>
<text x="428.77" y="214.85" font-size="10.9">0.87**</text>
<text x="402.45" y="247.90" font-size="10.3" font-style="italic">ρ<tspan dx="0.4" dy="2.7" font-size="7.45" font-style="normal">total</tspan></text>
<text x="426.17" y="247.90" font-size="10.9">0.56**</text>
<text x="409.25" y="262.80" font-size="10.3" font-style="italic">ρ<tspan dx="0.4" dy="2.7" font-size="7.45" font-style="normal">A</tspan></text>
<text x="426.17" y="262.80" font-size="10.9">0.97**</text>
<text x="409.25" y="276.00" font-size="10.3" font-style="italic">ρ<tspan dx="0.4" dy="2.7" font-size="7.45" font-style="normal">B</tspan></text>
<text x="427.47" y="276.00" font-size="10.9">0.55*</text>
<text x="409.25" y="288.80" font-size="10.3" font-style="italic">ρ<tspan dx="0.4" dy="2.7" font-size="7.45" font-style="normal">C</tspan></text>
<text x="426.47" y="288.80" font-size="10.9">0.86**</text>
<rect x="477.4" y="9.4" width="3.6" height="8.6" fill="#595959"/>
<circle cx="486.6" cy="14.7" r="2.8" fill="#3d3d3d"/>
<text x="496.65" y="18.0" font-size="10.4">Hospital A</text>
<rect x="477.4" y="22.1" width="3.6" height="8.6" fill="#1c1cfc"/>
<circle cx="486.6" cy="26.2" r="2.8" fill="#1c1cfc"/>
<text x="496.65" y="29.9" font-size="10.4">Hospital B</text>
<rect x="477.4" y="33.9" width="3.6" height="8.6" fill="#fa1e1e"/>
<circle cx="486.6" cy="37.9" r="2.8" fill="#fa1e1e"/>
<text x="496.65" y="41.7" font-size="10.4">Hospital C</text>
</svg>
</body></html>
